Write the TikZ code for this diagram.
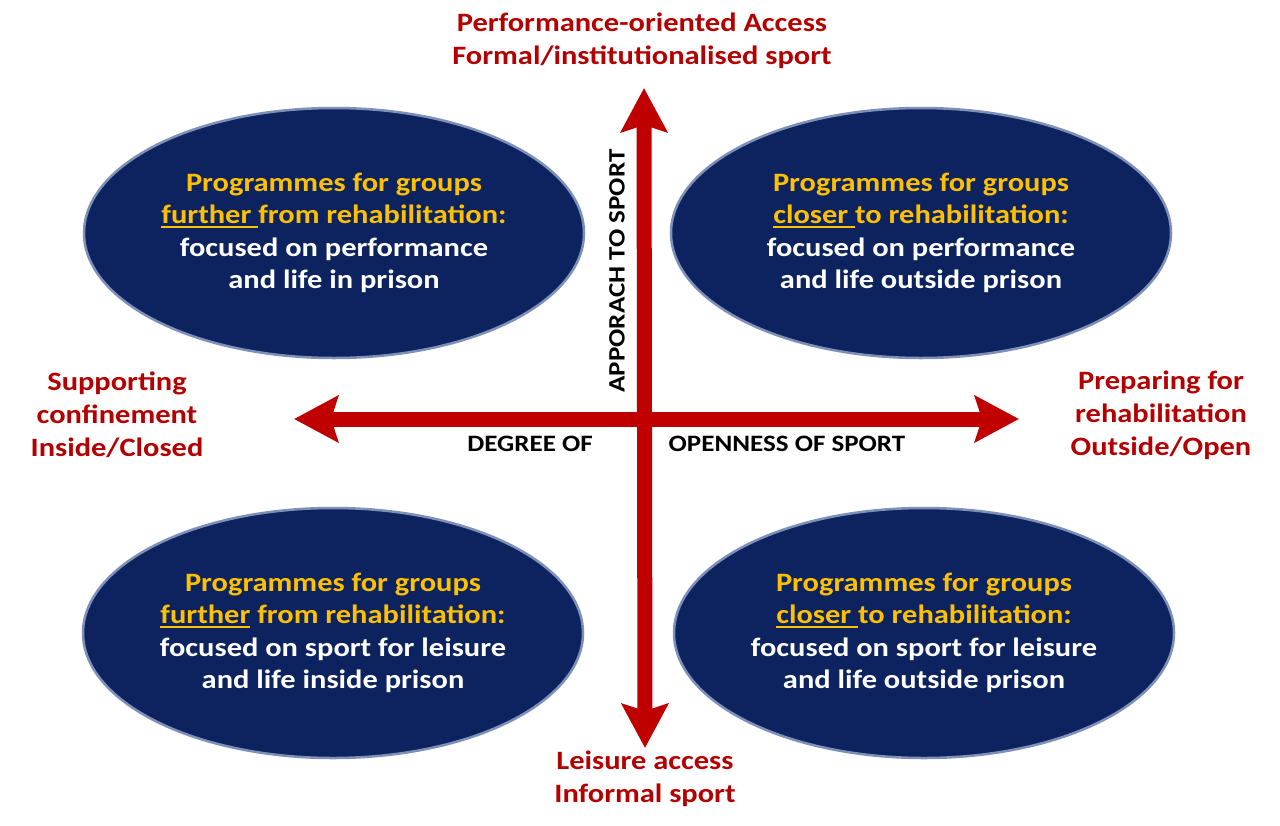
\documentclass[tikz,border=0pt]{standalone}
\usepackage{fontspec}
\setmainfont{Carlito}[FakeStretch=1.15]
\usetikzlibrary{arrows.meta,shapes.geometric}
\definecolor{navy}{HTML}{0C2360}
\definecolor{rim}{HTML}{7F90B8}
\definecolor{gold}{HTML}{FFC000}
\definecolor{arrred}{HTML}{C00000}
\definecolor{labred}{HTML}{B40000}
\newcommand\myul[1]{\setbox0\hbox{#1}\rlap{\rule[-4pt]{\wd0}{1.8pt}}\box0}
\begin{document}
\begin{tikzpicture}[x=1pt,y=-1pt,
  blob/.style={ellipse, fill=navy, draw=rim, line width=2.5pt,
    minimum width=500pt, minimum height=250pt, inner sep=0pt, align=center,
    font=\bfseries\fontsize{26.5}{32.5}\selectfont, text=white},
  axlab/.style={font=\bfseries\fontsize{26.5}{33}\selectfont, text=labred, align=center, inner sep=0pt},
  axname/.style={font=\bfseries\fontsize{23.5}{28}\selectfont, text=black, inner sep=0pt},
  axarrow/.style={draw=arrred, line width=15pt,
    arrows={Stealth[length=44pt,width=46pt,inset=7pt]-Stealth[length=44pt,width=46pt,inset=7pt]}}
]
\useasboundingbox (0,0) rectangle (1280,825);

% ellipses
\node[blob] (tl) at (334,233) {\textcolor{gold}{Programmes for groups}\\
  \textcolor{gold}{\myul{further\ }from rehabilitation:}\\
  focused on performance\\ and life in prison};
\node[blob] (tr) at (921,233) {\textcolor{gold}{Programmes for groups}\\
  \textcolor{gold}{\myul{closer\ }to rehabilitation:}\\
  focused on performance\\ and life outside prison};
\node[blob] (bl) at (333,633) {\textcolor{gold}{Programmes for groups}\\
  \textcolor{gold}{\myul{further}\ from rehabilitation:}\\
  focused on sport for leisure\\ and life inside prison};
\node[blob] (br) at (924,633) {\textcolor{gold}{Programmes for groups}\\
  \textcolor{gold}{\myul{closer\ }to rehabilitation:}\\
  focused on sport for leisure\\ and life outside prison};

% axes
\coordinate (T) at (644,88);
\coordinate (B) at (645,748);
\coordinate (L) at (294,419);
\coordinate (R) at (1019,419);
\draw[axarrow] (L) -- (R);
\draw[axarrow] (B) -- (T);

% axis end labels
\node[axlab] (top) at (642,41) {Performance-oriented Access\\Formal/institutionalised sport};
\node[axlab] (bot) at (645,779) {Leisure access\\Informal sport};
\node[axlab] (left) at (117,415) {Supporting\\confinement\\Inside/Closed};
\node[axlab] (right) at (1161,415) {Preparing for\\rehabilitation\\Outside/Open};

% axis names
\node[axname] (deg) at (530,444) {DEGREE OF};
\node[axname] (open) at (787,444) {OPENNESS OF SPORT};
\node[axname, rotate=90] (appr) at (617,271) {APPORACH TO SPORT};
\end{tikzpicture}
\end{document}
